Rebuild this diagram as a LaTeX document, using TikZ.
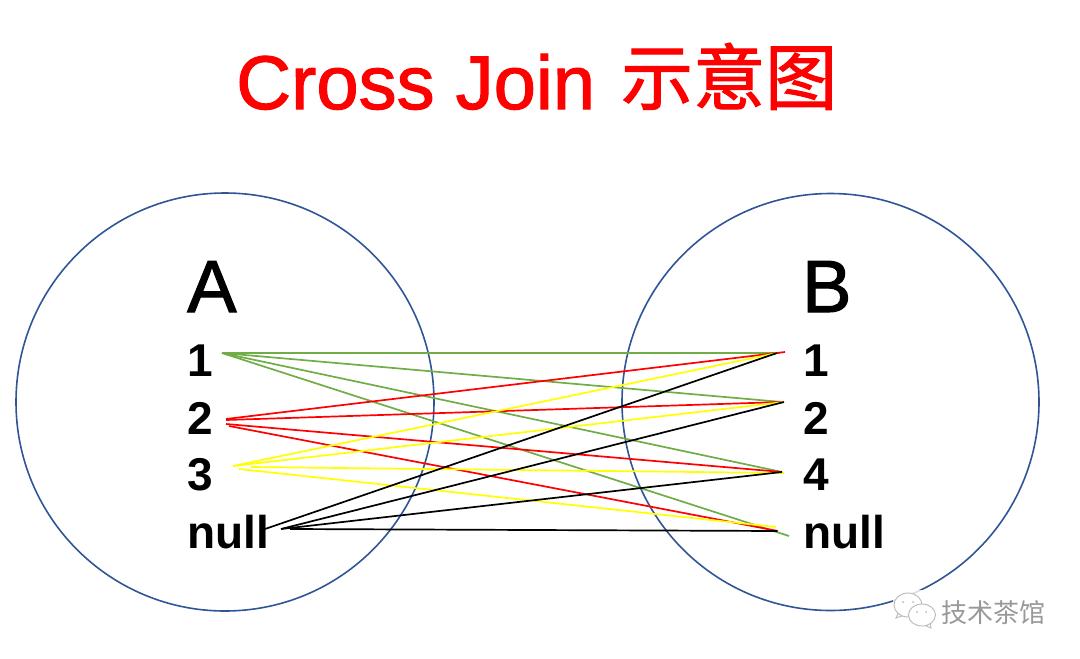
\documentclass[tikz,border=0pt]{standalone}
\usepackage{fontspec}
\setmainfont{Liberation Sans}
\newfontfamily\cjk[FakeBold=1.5]{Noto Sans CJK SC}
\newfontfamily\cjkmark{Noto Sans CJK SC}
\newfontfamily\headfont[FakeBold=1.5]{Liberation Sans}
\definecolor{ringblue}{HTML}{2F5597}
\definecolor{lgreen}{HTML}{70AD47}
\definecolor{lyellow}{HTML}{FFFF00}
\definecolor{lred}{HTML}{FF0000}
\tikzset{
  ring/.style={draw=ringblue, line width=1.6pt, circle, inner sep=0pt},
  lab/.style={anchor=base west, inner sep=0pt, font=\fontsize{46}{46}\selectfont\bfseries},
  head/.style={anchor=base west, inner sep=0pt, font=\fontsize{74}{74}\selectfont\headfont},
  link/.style={line width=1.7pt},
  bubble/.style={draw=gray!55, fill=white, line width=0.9pt}
}

\begin{document}
\begin{tikzpicture}[x=1pt, y=-1pt]
    \useasboundingbox (0,0) rectangle (1080,659);
    % title
    \node[anchor=base west, inner sep=0pt, text=red, font=\fontsize{76}{76}\selectfont\headfont] (title) at (236,109) {Cross Join};
    \node[anchor=base west, inner sep=0pt, text=red, font=\fontsize{72}{72}\selectfont\cjk] (titlecn) at (621,104) {示意图};
    % the two sets
    \node[ring, minimum size=418pt] (setA) at (225,402) {};
    \node[ring, minimum size=417pt] (setB) at (830.5,402) {};
    \node[head] (nameA) at (187,312) {A};
    \node[head] (nameB) at (802,312) {B};
    \foreach \name/\txt/\py in {a1/1/376,a2/2/434,a3/3/490,a4/null/548}{
      \node[lab] (\name) at (187,\py) {\txt};
    }
    \foreach \name/\txt/\py in {b1/1/376,b2/2/434,b3/4/490,b4/null/548}{
      \node[lab] (\name) at (803,\py) {\txt};
    }
    % line ends
    \foreach \name/\px/\py in {gA/222/353,gB/780/353,gC/782/402,gD/782/472,gE/789/536,
      rA/226/419,rB/226/420,rC/226/424,rD/229/426,
      rE/785/352,rF/782/402,rG/782/472,rH/778/531,
      yA/233/466,yB/233/466,yC/251/467,yD/239/469,
      yE/777/353,yF/784/402,yG/784/473,yH/776/527,
      kA/265/529,kB/281/529,kC/281/529,kD/290/529,
      kE/777/353,kF/784/402,kG/782/472,kH/777/531}{
      \coordinate (\name) at (\px,\py);
    }
    \foreach \from/\to in {gA/gB,gA/gC,gA/gD,gA/gE}{
      \draw[link, lgreen] (\from) -- (\to);
    }
    \foreach \from/\to in {rA/rE,rB/rF,rC/rG,rD/rH}{
      \draw[link, lred] (\from) -- (\to);
    }
    \foreach \from/\to in {yA/yE,yB/yF,yC/yG,yD/yH}{
      \draw[link, lyellow] (\from) -- (\to);
    }
    \foreach \from/\to in {kA/kE,kB/kF,kC/kG,kD/kH}{
      \draw[link, black] (\from) -- (\to);
    }
    % watermark
    \fill[white, opacity=0.8] (893,590) rectangle (935,630);
    \draw[bubble] (899,611) -- (896,618) -- (905,615);
    \draw[bubble] (908,605) ellipse (14 and 12);
    \fill[gray!55] (903,602) circle (1) (913,602) circle (1);
    \draw[bubble] (930,621) -- (931,628) -- (924,625);
    \draw[bubble] (922,615) ellipse (13.5 and 11);
    \fill[gray!55] (917,612) circle (1) (926,612) circle (1);
    \node[anchor=base west, inner sep=0pt, text=gray!80, font=\fontsize{26}{26}\selectfont\cjkmark] (mark) at (941,622) {技术茶馆};
  \end{tikzpicture}
\end{document}
